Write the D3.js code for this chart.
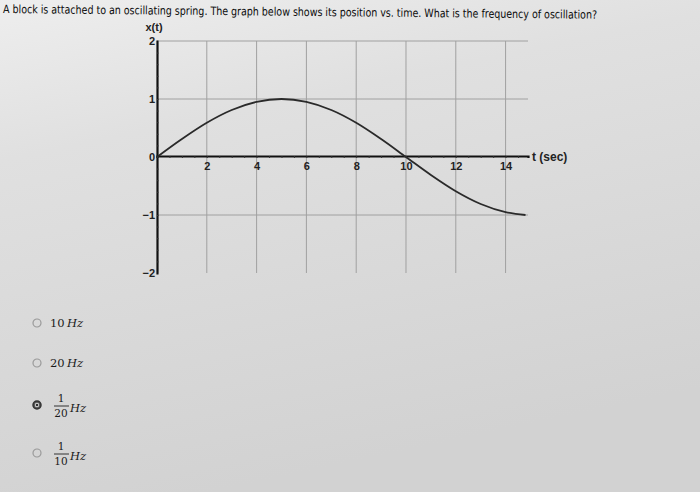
<!DOCTYPE html>
<html>
<head>
<meta charset="utf-8">
<script src="https://cdn.jsdelivr.net/npm/d3@7"></script>
<style>
  html, body { margin: 0; padding: 0; }
  body { width: 700px; height: 492px; overflow: hidden; }
</style>
</head>
<body>
<div id="chart"></div>
<script>
// values
const question = 'A block is attached to an oscillating spring. The graph below shows its position vs. time. What is the frequency of oscillation?';
const timeVals = [0, 1, 2, 3, 4, 5, 6, 7, 8, 9, 10, 11, 12, 13, 14, 14.8];
const posVals = [0, 0.31, 0.59, 0.81, 0.95, 1, 0.95, 0.81, 0.59, 0.31, 0, -0.31, -0.59, -0.81, -0.95, -1];
const xTicks = [2, 4, 6, 8, 10, 12, 14];
const yTicks = [2, 1, 0, -1, -2];
const yGrid = [2, 1, -1];
const choices = [
  {num: '10', den: null, selected: false},
  {num: '20', den: null, selected: false},
  {num: '1', den: '20', selected: true},
  {num: '1', den: '10', selected: false}
];
const choiceY = [323, 363, 405, 453];

const W = 700, H = 492;

const svg = d3.select('#chart').append('svg')
  .attr('width', W)
  .attr('height', H);

// paper background
const defs = svg.append('defs');
const grad = defs.append('linearGradient')
  .attr('id', 'bg')
  .attr('x1', 0).attr('y1', 0).attr('x2', 0.3).attr('y2', 1);
grad.append('stop').attr('offset', 0).attr('stop-color', '#eeeeee');
grad.append('stop').attr('offset', 0.3).attr('stop-color', '#e0e0e0');
grad.append('stop').attr('offset', 1).attr('stop-color', '#d2d2d2');
svg.append('rect').attr('width', W).attr('height', H).attr('fill', 'url(#bg)');

// question text, slightly tilted like the photo
svg.append('text')
  .attr('x', 3)
  .attr('y', 13)
  .attr('transform', 'rotate(0.55, 3, 13)')
  .attr('textLength', 594)
  .attr('lengthAdjust', 'spacingAndGlyphs')
  .style('font-family', '"Liberation Sans Narrow", "DejaVu Sans Condensed", "Liberation Sans", sans-serif')
  .style('font-size', '11.5px')
  .style('fill', '#0a0a0a')
  .text(question);

// scales
const x = d3.scaleLinear().domain([0, 14.9]).range([157, 528]);
const y = d3.scaleLinear().domain([-2, 2]).range([273, 41]);

const plot = svg.append('g');
const sans = '"Liberation Sans", Arial, sans-serif';

// grid
plot.selectAll('.vgrid')
  .data(xTicks)
  .enter().append('line')
  .attr('class', 'vgrid')
  .attr('x1', d => x(d)).attr('x2', d => x(d))
  .attr('y1', y(2)).attr('y2', y(-2))
  .attr('stroke', '#a0a0a0')
  .attr('stroke-width', 1);

plot.selectAll('.hgrid')
  .data(yGrid)
  .enter().append('line')
  .attr('class', 'hgrid')
  .attr('x1', x(0)).attr('x2', x(14.9))
  .attr('y1', d => y(d)).attr('y2', d => y(d))
  .attr('stroke', '#a0a0a0')
  .attr('stroke-width', 1);

// x axis: minor ticks + labels
const xMinor = d3.axisBottom(x)
  .tickValues(d3.range(0.5, 14.9, 0.5))
  .tickSize(2)
  .tickFormat('');
const gxMinor = plot.append('g')
  .attr('transform', `translate(0,${y(0) - 1})`)
  .call(xMinor);
gxMinor.select('.domain').attr('stroke', '#111').attr('stroke-width', 2.2);
gxMinor.selectAll('.tick line').attr('stroke', '#333');

const xLabels = d3.axisBottom(x)
  .tickValues(xTicks)
  .tickSize(0)
  .tickPadding(5);
const gx = plot.append('g')
  .attr('transform', `translate(0,${y(0)})`)
  .call(xLabels);
gx.select('.domain').remove();
gx.selectAll('text')
  .style('font-family', sans)
  .style('font-weight', 'bold')
  .style('font-size', '11px')
  .style('fill', '#222');

// y axis
const yMinor = d3.axisRight(y)
  .tickValues(d3.range(-1.8, 2, 0.2))
  .tickSize(1.5)
  .tickFormat('');
const gyMinor = plot.append('g')
  .attr('transform', `translate(${x(0)},0)`)
  .call(yMinor);
gyMinor.select('.domain').attr('stroke', '#111').attr('stroke-width', 2.2);
gyMinor.selectAll('.tick line').attr('stroke', '#333');

const yLabels = d3.axisLeft(y)
  .tickValues(yTicks)
  .tickSize(0)
  .tickPadding(2)
  .tickFormat(d => d < 0 ? '\u2212' + Math.abs(d) : d);
const gy = plot.append('g')
  .attr('transform', `translate(${x(0)},0)`)
  .call(yLabels);
gy.select('.domain').remove();
gy.selectAll('text')
  .style('font-family', sans)
  .style('font-weight', 'bold')
  .style('font-size', '11px')
  .style('fill', '#222');

// axis titles
plot.append('text')
  .attr('x', x(0) - 3)
  .attr('y', 31)
  .attr('text-anchor', 'middle')
  .style('font-family', sans)
  .style('font-weight', 'bold')
  .style('font-size', '11px')
  .style('fill', '#222')
  .text('x(t)');

plot.append('text')
  .attr('x', x(14.9) + 4)
  .attr('y', y(0) + 4)
  .style('font-family', sans)
  .style('font-weight', 'bold')
  .style('font-size', '12px')
  .style('fill', '#222')
  .text('t (sec)');

// the curve
const line = d3.line()
  .x((d, i) => x(timeVals[i]))
  .y(d => y(d))
  .curve(d3.curveMonotoneX);

plot.append('path')
  .datum(posVals)
  .attr('d', line)
  .attr('fill', 'none')
  .attr('stroke', '#2a2a2a')
  .attr('stroke-width', 1.8);

// answer choices
const serif = '"DejaVu Serif", "Liberation Serif", serif';
const opts = svg.selectAll('.choice')
  .data(choices)
  .enter().append('g')
  .attr('class', 'choice')
  .attr('transform', (d, i) => `translate(0,${choiceY[i]})`);

opts.append('circle')
  .attr('cx', 37).attr('cy', 0).attr('r', 4)
  .attr('fill', d => d.selected ? '#555' : 'none')
  .attr('stroke', d => d.selected ? '#333' : '#9a9a9a')
  .attr('stroke-width', d => d.selected ? 1.5 : 1.2);

opts.filter(d => d.selected).append('circle')
  .attr('cx', 37).attr('cy', 0).attr('r', 2.2)
  .attr('fill', '#ddd');
opts.filter(d => d.selected).append('circle')
  .attr('cx', 37).attr('cy', 0).attr('r', 1.3)
  .attr('fill', '#333');

// plain values
const plain = opts.filter(d => !d.den);
plain.append('text')
  .attr('x', 50).attr('y', 4)
  .style('font-family', serif)
  .style('font-size', '11.5px')
  .style('fill', '#1a1a1a')
  .text(d => d.num);
plain.append('text')
  .attr('x', 67).attr('y', 4)
  .style('font-family', serif)
  .style('font-style', 'italic')
  .style('font-size', '11.5px')
  .style('fill', '#1a1a1a')
  .text('Hz');

// fractions
const frac = opts.filter(d => d.den);
frac.append('text')
  .attr('x', 61).attr('y', -3)
  .attr('text-anchor', 'middle')
  .style('font-family', serif)
  .style('font-size', '10.5px')
  .style('fill', '#1a1a1a')
  .text(d => d.num);
frac.append('line')
  .attr('x1', 54).attr('x2', 69)
  .attr('y1', 1).attr('y2', 1)
  .attr('stroke', '#333').attr('stroke-width', 1);
frac.append('text')
  .attr('x', 61).attr('y', 12)
  .attr('text-anchor', 'middle')
  .style('font-family', serif)
  .style('font-size', '10.5px')
  .style('fill', '#1a1a1a')
  .text(d => d.den);
frac.append('text')
  .attr('x', 70).attr('y', 7)
  .style('font-family', serif)
  .style('font-style', 'italic')
  .style('font-size', '11.5px')
  .style('fill', '#1a1a1a')
  .text('Hz');
</script>
</body>
</html>
